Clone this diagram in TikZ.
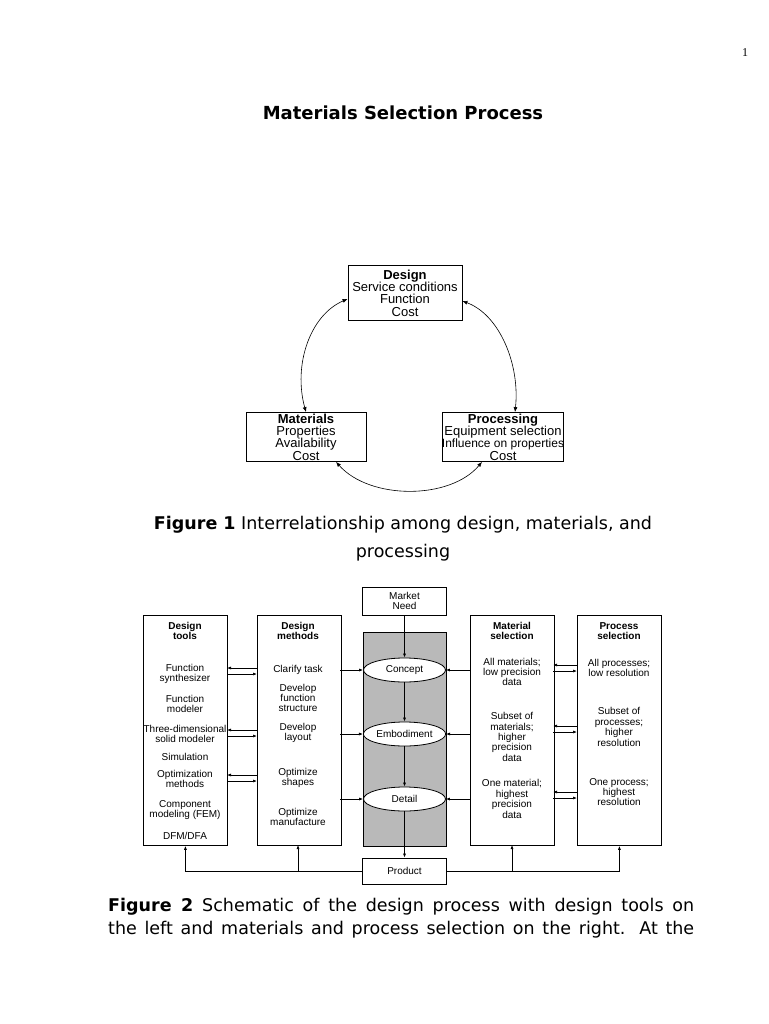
\documentclass[tikz,border=0pt]{standalone}
\usepackage{fontspec}
\setmainfont{DejaVu Sans}
\newfontfamily\arialf{Liberation Sans}
\newfontfamily\serf{Liberation Serif}
\usetikzlibrary{shapes.geometric,arrows.meta}
\begin{document}
\begin{tikzpicture}[x=1pt,y=-1pt,
  fbox/.style={draw,line width=0.8pt,font=\arialf\fontsize{13}{12.3}\selectfont,align=center,inner sep=0pt},
  col/.style={draw,line width=0.8pt,minimum width=84pt,minimum height=230pt,anchor=north west},
  small/.style={font=\arialf\fontsize{10}{10.4}\selectfont,align=center},
  arr/.style={-{Latex[length=4pt,width=3pt]},line width=0.7pt},
  tip2/.style={{Latex[length=5pt,width=4pt]}-{Latex[length=5pt,width=4pt]},line width=0.6pt},
  ell/.style={ellipse,draw,fill=white,line width=0.8pt,minimum width=82pt,minimum height=24pt,inner sep=1pt,font=\arialf\fontsize{10}{10}\selectfont},
  captxt/.style={font=\fontsize{17.5}{19}\selectfont}]
\useasboundingbox (0,0) rectangle (768,1024);
\fill[white] (0,0) rectangle (768,1024);
\node[font=\serf\fontsize{12}{12}\selectfont] (pg) at (745,53) {1};
\node[font=\bfseries\fontsize{18}{20}\selectfont] (title) at (403,113) {Materials Selection Process};
% Figure 1
\node[draw,line width=0.8pt,minimum width=114pt,minimum height=55pt] (des) at (405,293) {};
\node[fbox,draw=none] (desT) at (405,293) {\textbf{Design}\\Service conditions\\Function\\Cost};
\node[draw,line width=0.8pt,minimum width=120pt,minimum height=49pt] (mat) at (306,437) {};
\node[fbox,draw=none] (matT) at (306,437) {\textbf{Materials}\\Properties\\Availability\\Cost};
\node[draw,line width=0.8pt,minimum width=121pt,minimum height=49pt] (pro) at (503,437) {};
\node[fbox,draw=none] (proT) at (503,437) {\textbf{Processing}\\Equipment selection\\{\fontsize{12}{11}\selectfont Influence on properties}\\Cost};
\draw[tip2] ([yshift=-6pt]des.west) .. controls (310,315) and (293,365) .. (mat.north);
\draw[tip2] ([yshift=-8pt]des.east) .. controls (500,315) and (520,365) .. ([xshift=12pt]pro.north);
\draw[tip2] ([xshift=30pt]mat.south) .. controls (370,500) and (450,500) .. ([xshift=-21pt]pro.south);
\node[captxt] (c1a) at (403,525) {\textbf{Figure 1} Interrelationship among design, materials, and};
\node[captxt] (c1b) at (403,553) {processing};
% Figure 2
\fill[gray!55] (363,632) rectangle (446,846);
\draw[line width=0.8pt] (363,632) rectangle (446,846);
\node[col] (tools) at (143,615) {};
\node[col] (meth) at (257,615) {};
\node[col] (msel) at (470,615) {};
\node[col] (psel) at (577,615) {};
\node[fbox,minimum width=84pt,minimum height=28pt,font=\arialf\fontsize{10}{10}\selectfont] (need) at (404.5,601) {Market\\Need};
\node[fbox,minimum width=84pt,minimum height=26pt,font=\arialf\fontsize{10}{10}\selectfont] (prod) at (404.5,871) {Product};
\node[ell] (conc) at (404.5,670) {Concept};
\node[ell] (emb) at (404.5,734) {Embodiment};
\node[ell] (det) at (404.5,799) {Detail};
% texts
\node[small] (t0) at (185,631) {\textbf{Design}\\\textbf{tools}};
\node[small] (t1) at (185,674) {Function\\synthesizer};
\node[small] (t2) at (185,704) {Function\\modeler};
\node[small] (t3) at (185,734) {Three-dimensional\\solid modeler};
\node[small] (t4) at (185,757) {Simulation};
\node[small] (t5) at (185,779) {Optimization\\methods};
\node[small] (t6) at (185,810) {Component\\modeling (FEM)};
\node[small] (t7) at (185,836) {DFM/DFA};
\node[small] (m0) at (298,631) {\textbf{Design}\\\textbf{methods}};
\node[small] (m1) at (298,670) {Clarify task};
\node[small] (m2) at (298,698) {Develop\\function\\structure};
\node[small] (m3) at (298,733) {Develop\\layout};
\node[small] (m4) at (298,778) {Optimize\\shapes};
\node[small] (m5) at (298,817) {Optimize\\manufacture};
\node[small] (s0) at (512,631) {\textbf{Material}\\\textbf{selection}};
\node[small] (s1) at (512,672) {All materials;\\low precision\\data};
\node[small] (s2) at (512,737) {Subset of\\materials;\\higher\\precision\\data};
\node[small] (s3) at (512,799) {One material;\\highest\\precision\\data};
\node[small] (p0) at (619,631) {\textbf{Process}\\\textbf{selection}};
\node[small] (p1) at (619,668) {All processes;\\low resolution};
\node[small] (p2) at (619,727) {Subset of\\processes;\\higher\\resolution};
\node[small] (p3) at (619,792) {One process;\\highest\\resolution};
% double arrows
\foreach \y in {668,730,775}{
  \draw[arr] (257,\y) -- (227,\y);
  \draw[arr] (227,\y+6) -- (257,\y+6);}
\foreach \y in {665,726,792}{
  \draw[arr] (577,\y) -- (553,\y);
  \draw[arr] (553,\y+6) -- (577,\y+6);}
\draw[arr] (340,670) -- (conc.west);
\draw[arr] (340,734) -- (emb.west);
\draw[arr] (340,799) -- (det.west);
\draw[arr] (470,670) -- (conc.east);
\draw[arr] (470,734) -- (emb.east);
\draw[arr] (470,799) -- (det.east);
\draw[arr] (need.south) -- (conc.north);
\draw[arr] (conc.south) -- (emb.north);
\draw[arr] (emb.south) -- (det.north);
\draw[arr] (det.south) -- (prod.north);
\draw[arr] (prod.west) -| (tools.south);
\draw[arr] (298,871) -- (298,845);
\draw[arr] (prod.east) -| (psel.south);
\draw[arr] (512,871) -- (512,845);
% caption 2
\node[captxt,anchor=west,inner sep=0pt] (c2a) at (108,907) {\makebox[586pt][s]{\textbf{Figure 2} Schematic of the design process with design tools on}};
\node[captxt,anchor=west,inner sep=0pt] (c2b) at (108,930) {\makebox[586pt][s]{the left and materials and process selection on the right. At the}};
\end{tikzpicture}
\end{document}
